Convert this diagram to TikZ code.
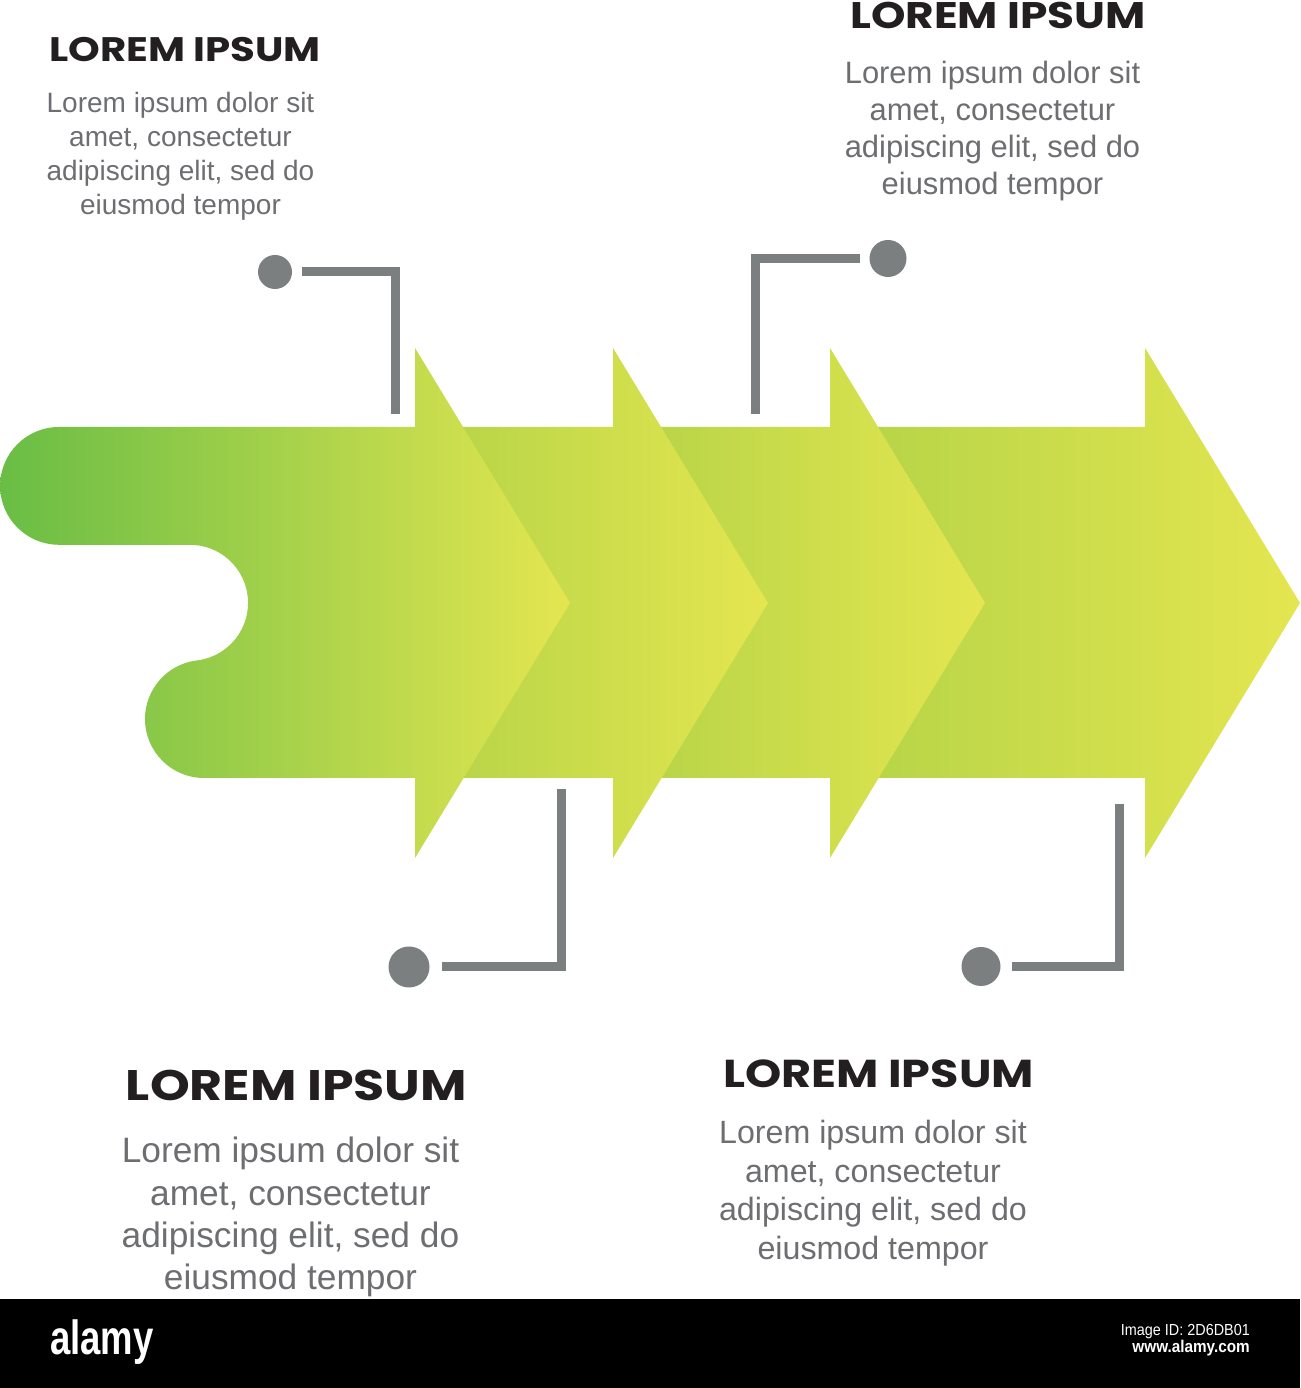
\documentclass[tikz,border=0pt]{standalone}
\usepackage{fontspec}
\setmainfont{Liberation Sans}
\newfontfamily\titlefont{Poppins}
\definecolor{cgray}{HTML}{7B7F7F}
\definecolor{ttlcol}{HTML}{231F20}
\definecolor{bodycol}{HTML}{6D6E71}
\definecolor{gA}{HTML}{69BD45}
\definecolor{gB}{HTML}{E4E650}
\definecolor{gC}{HTML}{B3D347}
\newcommand{\wide}[1]{\scalebox{1.185}[1]{#1}}
\begin{document}
\begin{tikzpicture}[x=1pt,y=1pt,
  conn/.style={draw=cgray, line width=9pt, line join=miter, line cap=butt},
  dotn/.style={circle, fill=cgray, inner sep=0pt, minimum size=#1},
  ttl/.style={font=\titlefont\bfseries\fontsize{#1}{#1}\selectfont, text=ttlcol, inner sep=0pt, anchor=center},
  bodyt/.style 2 args={font=\fontsize{#1}{#2}\selectfont, align=center, text=bodycol, inner sep=0pt, anchor=north},
  seg/.style={left color=gC, right color=gB, draw=none}
]
\fill[white] (0,0) rectangle (1300,1388);
\useasboundingbox (0,0) rectangle (1300,1388);

% arrow segments, right to left
\shade[seg] (830,961) -- (1145,961) -- (1145,1040) -- (1300,785) -- (1145,530) -- (1145,610) -- (830,610) -- cycle;
\shade[seg] (613,961) -- (830,961) -- (830,1040) -- (985,785) -- (830,530) -- (830,610) -- (613,610) -- cycle;
\shade[seg] (415,961) -- (613,961) -- (613,1040) -- (768,785) -- (613,530) -- (613,610) -- (415,610) -- cycle;
\shade[left color=gA, right color=gB, draw=none]
  (59,961) -- (415,961) -- (415,1040) -- (570,785) -- (415,530) -- (415,610) -- (204,610)
  arc[start angle=-90, end angle=-263.15, radius=59]
  arc[start angle=-83.15, end angle=90, radius=58]
  -- (59,843.2)
  arc[start angle=270, end angle=90, radius=58.9]
  -- cycle;

% connectors
\node[dotn=34pt] (d1) at (275,1116) {};
\coordinate (c1a) at (302,1116);
\coordinate (c1b) at (395.5,974);
\draw[conn] (c1a) -| (c1b);

\node[dotn=37pt] (d2) at (888,1129.5) {};
\coordinate (c2a) at (859.6,1129.5);
\coordinate (c2b) at (755.5,974);
\draw[conn] (c2a) -| (c2b);

\node[dotn=41pt] (d3) at (409,421) {};
\coordinate (c3a) at (442,421);
\coordinate (c3b) at (561,599);
\draw[conn] (c3a) -| (c3b);

\node[dotn=39pt] (d4) at (981,421.5) {};
\coordinate (c4a) at (1012,421.5);
\coordinate (c4b) at (1119,584);
\draw[conn] (c4a) -| (c4b);

% titles
\node[ttl=34] (t1) at (185,1338) {\wide{LOREM IPSUM}};
\node[ttl=37] (t2) at (998,1372.5) {\wide{LOREM IPSUM}};
\node[ttl=42.7] (t3) at (296.5,303) {\wide{LOREM IPSUM}};
\node[ttl=38.9] (t4) at (878.5,314) {\wide{LOREM IPSUM}};

% body texts
\node[bodyt={28}{34}] (b1) at (180.5,1296) {Lorem ipsum dolor sit\\amet, consectetur\\adipiscing elit, sed do\\eiusmod tempor};
\node[bodyt={30.9}{37}] (b2) at (992.5,1327) {Lorem ipsum dolor sit\\amet, consectetur\\adipiscing elit, sed do\\eiusmod tempor};
\node[bodyt={35.3}{42.3}] (b3) at (290.5,251) {Lorem ipsum dolor sit\\amet, consectetur\\adipiscing elit, sed do\\eiusmod tempor};
\node[bodyt={32.2}{38.7}] (b4) at (873,268) {Lorem ipsum dolor sit\\amet, consectetur\\adipiscing elit, sed do\\eiusmod tempor};

% bottom bar
\fill[black] (0,0) rectangle (1300,89);
\node[font=\bfseries\fontsize{48}{48}\selectfont, text=white, anchor=base west, inner sep=0pt] (wm) at (50,33) {\scalebox{0.76}[1]{alamy}};
\node[font=\fontsize{16}{16}\selectfont, text=white, anchor=base east, inner sep=0pt] (imgid) at (1250,52) {\scalebox{0.9}[1]{Image ID: 2D6DB01}};
\node[font=\bfseries\fontsize{17}{17}\selectfont, text=white, anchor=base east, inner sep=0pt] (url) at (1250,35) {\scalebox{0.9}[1]{www.alamy.com}};
\end{tikzpicture}
\end{document}
